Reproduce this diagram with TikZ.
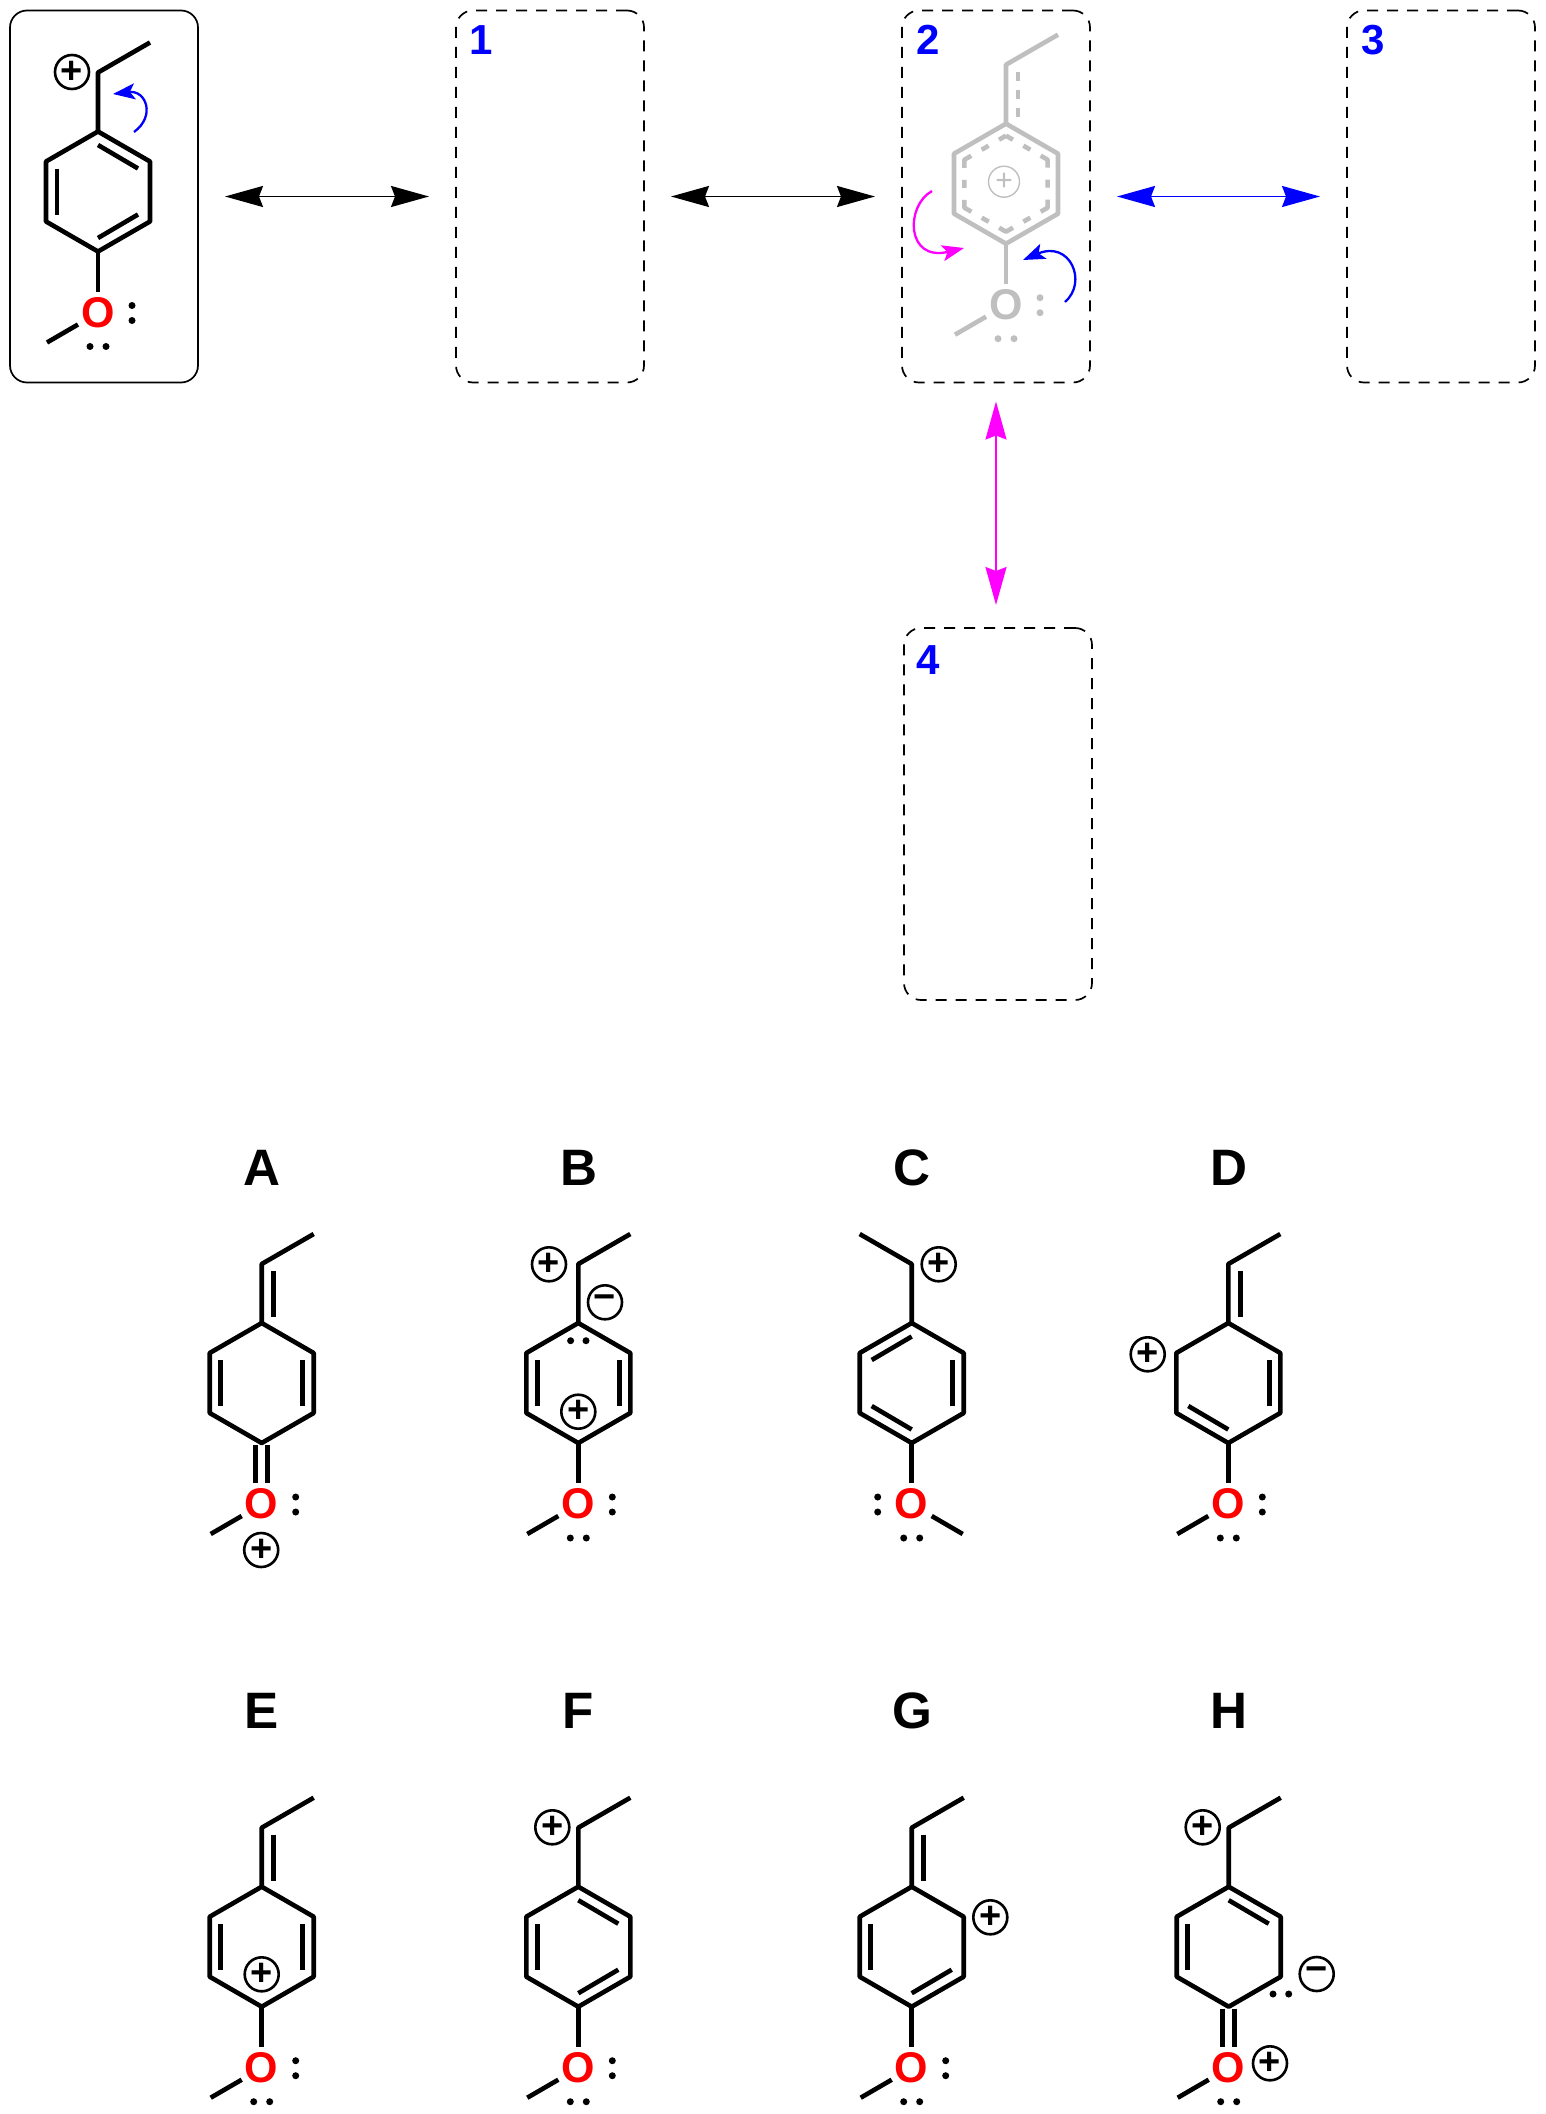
\documentclass[tikz,border=0pt]{standalone}
\usepackage{fontspec}
\setmainfont{Liberation Sans}
\usetikzlibrary{arrows.meta}

\definecolor{molblue}{RGB}{0,0,255}
\definecolor{molpink}{RGB}{255,0,255}
\definecolor{oxred}{RGB}{255,0,0}
\definecolor{molgray}{RGB}{191,191,191}
\colorlet{molcol}{black}
\colorlet{oxcol}{oxred}

\tikzset{
    bond/.style = {draw = molcol, line width = 2.3pt, line join = round},
    curly/.style = {line width = 1.15pt, -{Stealth[length = 11pt, width = 8pt, inset = 2.5pt]}},
    resonance/.style = {
        line width = 0.95pt,
        {Stealth[length = 19pt, width = 10.5pt, inset = 2pt]}-{Stealth[length = 19pt, width = 10.5pt, inset = 2pt]}
    },
    solidbox/.style = {draw, line width = 0.85pt, rounded corners = 8.5pt, outer sep = 0pt,
        minimum width = 94pt, minimum height = 186pt},
    dashbox/.style = {solidbox, dash pattern = on 5.5pt off 4.5pt},
    boxnum/.style = {anchor = base, inner sep = 0pt, text = molblue,
        font = \fontsize{21}{25}\selectfont\bfseries},
    letter/.style = {anchor = base, inner sep = 0pt,
        font = \fontsize{25.6}{30}\selectfont\bfseries},
    oxygen/.style = {inner sep = 0pt, text = oxcol, font = \fontsize{21.5}{25}\selectfont\bfseries},
    charge/.style = {circle, draw = molcol, text = molcol, line width = 1.3pt, inner sep = 0pt,
        minimum size = 17pt, font = \fontsize{19}{22}\selectfont\bfseries},
    dot/.style = {fill = molcol, draw = none}
}

% Ring and ethyl chain, the argument is where the methyl end goes.
\newcommand{\skeleton}[1]{%
    \draw[bond] (0,-60) -- (52,-30) -- (52,30) -- (0,60) -- (-52,30) -- (-52,-30) -- cycle;
    \draw[bond] (#1,-149) -- (0,-119) -- (0,-60);
}
% Inner lines of the double bonds.
\newcommand{\dblL}{\draw[bond] (-41,-23) -- (-41,23);}
\newcommand{\dblR}{\draw[bond] (41,-23) -- (41,23);}
\newcommand{\dblTL}{\draw[bond] (-40,-23) -- (0,-46.5);}
\newcommand{\dblTR}{\draw[bond] (40,-23) -- (0,-46.5);}
\newcommand{\dblBL}{\draw[bond] (-40,23) -- (0,46.5);}
\newcommand{\dblBR}{\draw[bond] (40,23) -- (0,46.5);}
\newcommand{\dblCC}{\draw[bond] (12,-112) -- (12,-66);}
% The oxygen, the argument is the side of its methyl.
\newcommand{\methoxy}[1]{%
    \node[oxygen] (oxy) at (0,121) {O};
    \draw[bond] (#1*20,133) -- (#1*51,151);
}
\newcommand{\cosingle}{\draw[bond] (0,60) -- (0,100);}
\newcommand{\codouble}{\draw[bond] (-6,62) -- (-6,100) (6,62) -- (6,100);}
% Lone pairs.
\newcommand{\lpair}[4]{%
    \fill[dot] (#1,#2) circle (3.5);
    \fill[dot] (#3,#4) circle (3.5);
}
\newcommand{\lpright}{\lpair{34}{114}{34}{129}}
\newcommand{\lpleft}{\lpair{-34}{114}{-34}{129}}
\newcommand{\lpbottom}{\lpair{-8}{155}{8}{155}}

\begin{document}
\begin{tikzpicture}[x = 0.5pt, y = -0.5pt]
    \useasboundingbox (0,0) rectangle (1546,2114);

    % The boxes.
    \node[solidbox] (box0) at (104,196.5) {};
    \node[dashbox] (box1) at (550,196.5) {};
    \node[dashbox] (box2) at (996,196.5) {};
    \node[dashbox] (box3) at (1441,196.5) {};
    \node[dashbox] (box4) at (998,814) {};

    \node[boxnum] (num1) at (481,55) {1};
    \node[boxnum] (num2) at (928,55) {2};
    \node[boxnum] (num3) at (1373,55) {3};
    \node[boxnum] (num4) at (928,674) {4};

    % Resonance arrows between the boxes.
    \draw[resonance, shorten < = 13.5pt, shorten > = 13.5pt] (box0) -- (box1);
    \draw[resonance, shorten < = 13.5pt, shorten > = 13.5pt] (box1) -- (box2);
    \draw[resonance, draw = molblue, shorten < = 13.5pt, shorten > = 13.5pt] (box2) -- (box3);
    \draw[resonance, draw = molpink, shorten < = 9.5pt, shorten > = 11.5pt]
        (box2.south) -- (box2.south |- box4.north);

    % The starting cation.
    \begin{scope}[shift = {(98,191.5)}]
        \skeleton{52}
        \dblTR \dblL \dblBR
        \cosingle
        \methoxy{-1}
        \lpright \lpbottom
        \node[charge] (startplus) at (-26,-119.5) {+};
    \end{scope}
    \draw[curly, draw = molblue] (134,132) .. controls (156,116) and (146,90) .. (113,94);

    % The greyed hybrid in box 2.
    \begin{scope}[shift = {(1006,183.7)}]
        \colorlet{molcol}{molgray}
        \colorlet{oxcol}{molgray}
        \skeleton{52}
        \draw[bond, dash pattern = on 8pt off 6pt on 4pt off 6pt, dash phase = 4pt]
            (0,-48) -- (41.6,-24) -- (41.6,24) -- (0,48) -- (-41.6,24) -- (-41.6,-24) -- cycle;
        \draw[bond, dash pattern = on 4.5pt off 4.5pt] (12,-112) -- (12,-66);
        \cosingle
        \methoxy{-1}
        \lpright \lpbottom
        \node[charge, line width = 0.7pt, font = \fontsize{15}{18}\selectfont, minimum size = 15.5pt]
            (hybridplus) at (-2,-2) {+};
    \end{scope}
    \draw[curly, draw = molpink] (932,191) .. controls (905,206) and (906,262) .. (964,248);
    \draw[curly, draw = molblue] (1065,302) .. controls (1088,282) and (1070,240) .. (1023,260);

    % Labels of the answers.
    \node[letter] (labA) at (261.7,1185) {A};
    \node[letter] (labB) at (579,1185) {B};
    \node[letter] (labC) at (911.7,1185) {C};
    \node[letter] (labD) at (1228.8,1185) {D};
    \node[letter] (labE) at (261.7,1728.3) {E};
    \node[letter] (labF) at (578.3,1728.3) {F};
    \node[letter] (labG) at (912.2,1728.3) {G};
    \node[letter] (labH) at (1228.8,1728.3) {H};

    % A
    \begin{scope}[shift = {(261.7,1383)}]
        \skeleton{52}
        \dblCC \dblL \dblR
        \codouble
        \methoxy{-1}
        \lpright
        \node[charge] (plusA) at (-0.5,167) {+};
    \end{scope}

    % B
    \begin{scope}[shift = {(578.3,1383)}]
        \skeleton{52}
        \dblL \dblR
        \cosingle
        \methoxy{-1}
        \lpright \lpbottom
        \lpair{-7.7}{-42.3}{7.7}{-42.3}
        \node[charge] (plusB) at (-29.3,-118.7) {+};
        \node[charge] (minusB) at (26.7,-80.7) {−};
        \node[charge] (ringB) at (0,28.7) {+};
    \end{scope}

    % C
    \begin{scope}[shift = {(911.7,1383)}]
        \skeleton{-52}
        \dblTL \dblR \dblBL
        \cosingle
        \methoxy{1}
        \lpleft \lpbottom
        \node[charge] (plusC) at (27,-118.7) {+};
    \end{scope}

    % D
    \begin{scope}[shift = {(1228.3,1383)}]
        \skeleton{52}
        \dblCC \dblR \dblBL
        \cosingle
        \methoxy{-1}
        \lpright \lpbottom
        \node[charge] (plusD) at (-80.6,-28.7) {+};
    \end{scope}

    % E
    \begin{scope}[shift = {(261.7,1946.7)}]
        \skeleton{52}
        \dblCC \dblL \dblR
        \cosingle
        \methoxy{-1}
        \lpright \lpbottom
        \node[charge] (plusE) at (0,27.6) {+};
    \end{scope}

    % F
    \begin{scope}[shift = {(578.3,1946.7)}]
        \skeleton{52}
        \dblTR \dblL \dblBR
        \cosingle
        \methoxy{-1}
        \lpright \lpbottom
        \node[charge] (plusF) at (-26,-119.4) {+};
    \end{scope}

    % G
    \begin{scope}[shift = {(911.7,1946.7)}]
        \skeleton{52}
        \dblCC \dblL \dblBR
        \cosingle
        \methoxy{-1}
        \lpright \lpbottom
        \node[charge] (plusG) at (78.6,-29.4) {+};
    \end{scope}

    % H
    \begin{scope}[shift = {(1228.7,1946.7)}]
        \skeleton{52}
        \dblTR \dblL
        \codouble
        \methoxy{-1}
        \lpbottom
        \lpair{44.3}{47.3}{60}{47.3}
        \node[charge] (plusH) at (-26,-119.4) {+};
        \node[charge] (minusH) at (88,27.3) {−};
        \node[charge] (oxplusH) at (41.3,116.6) {+};
    \end{scope}
\end{tikzpicture}
\end{document}
